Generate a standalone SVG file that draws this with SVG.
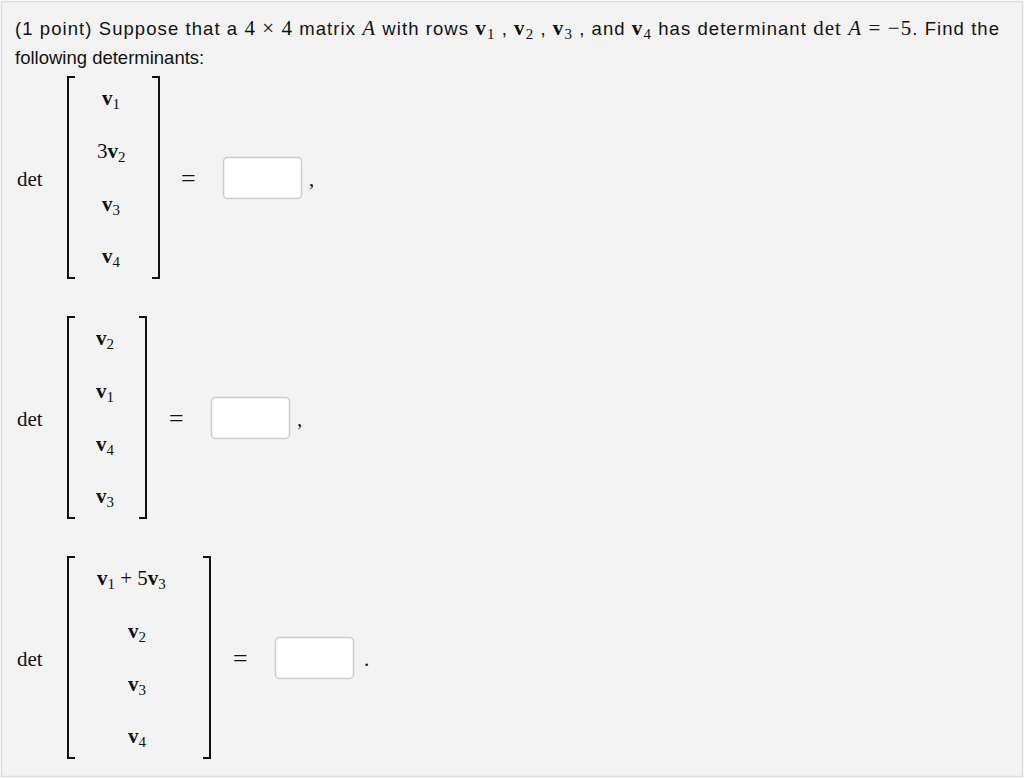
<svg xmlns="http://www.w3.org/2000/svg" width="1024" height="778" viewBox="0 0 1024 778">
<style>
.s{font-family:"Liberation Sans",Arial,sans-serif;font-size:18.5px;fill:#111}
.m{font-family:"Liberation Serif","Times New Roman",serif;font-size:21px;fill:#111}
.b{font-weight:bold}
.sub{font-size:15px}
.eq{font-size:26px}
.br{fill:none;stroke:#111;stroke-width:2}
.box{fill:#fff;stroke:#ccc;stroke-width:1.5}
</style>
<rect x="1.5" y="1.5" width="1021" height="775" fill="#f3f3f3" stroke="#ddd" stroke-width="1.5"/>
<text class="s" x="15" y="35" textLength="984" lengthAdjust="spacing">(1 point) Suppose that a <tspan class="m">4 × 4</tspan> matrix <tspan class="m" font-style="italic">A</tspan> with rows <tspan class="m b">v</tspan><tspan class="m sub" dy="4">1</tspan><tspan dy="-4"> , </tspan><tspan class="m b">v</tspan><tspan class="m sub" dy="4">2</tspan><tspan dy="-4"> , </tspan><tspan class="m b">v</tspan><tspan class="m sub" dy="4">3</tspan><tspan dy="-4"> , and </tspan><tspan class="m b">v</tspan><tspan class="m sub" dy="4">4</tspan><tspan dy="-4">  has determinant </tspan><tspan class="m">det <tspan font-style="italic">A</tspan> = −5</tspan>. Find the</text>
<text class="s" x="15" y="64">following determinants:</text>

<g id="det1">
<text class="m" x="17" y="186">det</text>
<path class="br" d="M75,77 H68 V278 H75 M152,77 H159 V278 H152"/>
<text class="m" x="102" y="105"><tspan class="b">v</tspan><tspan class="sub" dy="4">1</tspan></text>
<text class="m" x="97" y="158">3<tspan class="b">v</tspan><tspan class="sub" dy="4">2</tspan></text>
<text class="m" x="102" y="211"><tspan class="b">v</tspan><tspan class="sub" dy="4">3</tspan></text>
<text class="m" x="102" y="263"><tspan class="b">v</tspan><tspan class="sub" dy="4">4</tspan></text>
<text class="m eq" x="181" y="187">=</text>
<rect class="box" x="223.5" y="157.5" width="78" height="41" rx="4"/>
<text class="m" x="309" y="186">,</text>
</g>

<g id="det2">
<text class="m" x="17" y="426">det</text>
<path class="br" d="M75,317 H68 V518 H75 M139,317 H146 V518 H139"/>
<text class="m" x="96" y="345"><tspan class="b">v</tspan><tspan class="sub" dy="4">2</tspan></text>
<text class="m" x="96" y="398"><tspan class="b">v</tspan><tspan class="sub" dy="4">1</tspan></text>
<text class="m" x="96" y="451"><tspan class="b">v</tspan><tspan class="sub" dy="4">4</tspan></text>
<text class="m" x="96" y="503"><tspan class="b">v</tspan><tspan class="sub" dy="4">3</tspan></text>
<text class="m eq" x="169" y="427">=</text>
<rect class="box" x="211.5" y="397.5" width="78" height="41" rx="4"/>
<text class="m" x="297" y="426">,</text>
</g>

<g id="det3">
<text class="m" x="17" y="666">det</text>
<path class="br" d="M75,557 H68 V758 H75 M203,557 H210 V758 H203"/>
<text class="m" x="97" y="585"><tspan class="b">v</tspan><tspan class="sub" dy="4">1</tspan><tspan dy="-4">  + 5</tspan><tspan class="b">v</tspan><tspan class="sub" dy="4">3</tspan></text>
<text class="m" x="128" y="638"><tspan class="b">v</tspan><tspan class="sub" dy="4">2</tspan></text>
<text class="m" x="128" y="691"><tspan class="b">v</tspan><tspan class="sub" dy="4">3</tspan></text>
<text class="m" x="128" y="743"><tspan class="b">v</tspan><tspan class="sub" dy="4">4</tspan></text>
<text class="m eq" x="233" y="667">=</text>
<rect class="box" x="275.5" y="637.5" width="78" height="41" rx="4"/>
<text class="m" x="364" y="666">.</text>
</g>
</svg>
